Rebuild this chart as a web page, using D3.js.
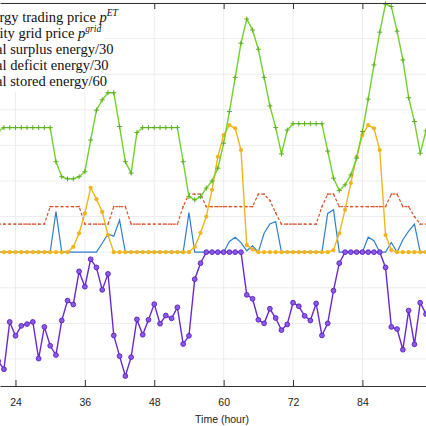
<!DOCTYPE html>
<html><head><meta charset="utf-8">
<script src="https://cdn.jsdelivr.net/npm/d3@7"></script>
<style>body{margin:0;background:#fff}</style></head>
<body><svg id="c" width="426" height="426"></svg>
<script>
const hours = d3.range(21, 96);
const xTicks = [24, 36, 48, 60, 72, 84];
const yGrid = d3.range(0, 101, 10);
const tradingPrice = [64,65,65,65,65,65,65,65,65,65,55.4,51.2,50.6,50.6,51.2,52.6,61.5,69.9,72.8,74.8,74.8,65.3,55.4,52.2,63.6,65,65,65,65,65,65,65,55.4,45.6,44.7,45.6,48,50,53.6,60.6,69.5,79.1,88.7,95.5,92.4,87.0,79.1,71.1,65.0,57.6,64.3,66.1,66.1,66.1,66.1,66.1,66.1,58.4,50.8,47.3,48.9,51.7,56.4,63.9,73.0,82.6,91.8,99.7,99.0,92.1,84.0,73.4,66.7,57.8,64.1];
const L=37.9, M=42.8, H=46.3;
const gridPrice = [L,L,L,L,L,L,L,L,L, M,M,M,M,M,M, L,L,L,L,L, M,M,M, L,L,L,L,L,L,L,L,L, M, H,H,H, M, M,M,M,M,M,M,M,M, H,H, 44.5,41, L,L,L,L,L,L,L, M, H,H, M, M,M,M,M,M,M,M,M, H,H, M,M,40,L,L];
const surplus = [30,30,30,30,30,30,30,30,30,30,41.4,30,30,30,30,30,30,30,32.5,35.1,34.5,39.0,30,30,30,30,30,30,30,30,30,30,30,41.1,30,30,30,30,30,30,33.0,34.2,32.7,30.4,31.8,30,35.3,37.9,38.6,30,30,30,30,30,30,30,30,40.9,41.9,30,30,30,30,30,34.2,33.2,30,30,32.7,30,33.5,35.9,37.9,30,30];
const deficit = [30,30,30,30,30,30,30,30,30,30,30,30,30,31.5,35.3,40.9,48.1,44.9,41.3,34.8,30,30,30,30,30,30,30,30,30,30,30,30,30,30,31.5,35.4,40,47.5,56.8,62.9,65.7,64.8,58.7,32,30.8,30,30,30,30,30,30,30,30,30,30,30,30,30,30.6,35.3,41.9,49.4,56.8,62.9,65.7,64.8,58.7,34.8,30.6,30,30,30,30,30,30];
const stored = [-0.6,-2.9,10.4,6.5,9.3,9.8,10.4,0.1,9.0,3.7,1.1,10.8,16.4,15.3,24.6,20.3,28.0,25.7,19.4,23.9,6.6,0.8,-4.8,0.5,11.1,6.8,11.0,15.4,9.9,12.2,11.4,14.5,4.2,6.5,22.4,26.9,30,30,30,30,30,30,30,18.0,16.9,11.0,10.0,14.1,11.5,8.1,9.7,15.8,14.8,12.1,10.8,15.6,6.6,10.0,19.2,26.9,30,30,30,30,30,30,30,25.7,9.0,8.4,2.6,13.6,4.1,15.8,12.6];
const legendLabels = [["Energy trading price ","p","ET"],["Utility grid price ","p","grid"],["Total surplus energy/30"],["Total deficit energy/30"],["Total stored energy/60"]];

const svg = d3.select("#c");
const x = d3.scaleLinear().domain([21.32, 95]).range([0, 426]);
const y = d3.scaleLinear().domain([-7.6, 100]).range([386, 3]);

svg.append("g").selectAll("line").data(yGrid).join("line")
  .attr("x1",0).attr("x2",426).attr("y1",d=>y(d)).attr("y2",d=>y(d))
  .attr("stroke","#e8e8e8").attr("stroke-width",0.8);
svg.append("g").selectAll("line").data(xTicks).join("line")
  .attr("x1",d=>x(d)).attr("x2",d=>x(d)).attr("y1",3).attr("y2",386)
  .attr("stroke","#e8e8e8").attr("stroke-width",0.8);

const line = d3.line().x((d,i)=>x(hours[i])).y(d=>y(d));
const g = svg.append("g");

function series(data, color, opts={}){
  g.append("path").datum(data).attr("d",line).attr("fill","none")
    .attr("stroke",color).attr("stroke-width",opts.w||1.3)
    .attr("stroke-dasharray",opts.dash||null);
}
series(gridPrice, "#d9532b", {dash:"3,2", w:1.2});
g.append("g").selectAll("circle").data(gridPrice).join("circle")
  .attr("cx",(d,i)=>x(hours[i])).attr("cy",d=>y(d)).attr("r",0.9).attr("fill","#d9532b");
series(surplus, "#2f7fd0", {w:1.2});
series(deficit, "#efb51c", {w:1.4});
g.append("g").selectAll("circle").data(deficit).join("circle")
  .attr("cx",(d,i)=>x(hours[i])).attr("cy",d=>y(d)).attr("r",2.1).attr("fill","#efb51c");
series(tradingPrice, "#72d12a", {w:1.4});
const gp = g.append("g").attr("stroke","#5fae22").attr("stroke-width",1);
tradingPrice.forEach((d,i)=>{
  const cx=x(hours[i]), cy=y(d);
  gp.append("line").attr("x1",cx-2.5).attr("x2",cx+2.5).attr("y1",cy).attr("y2",cy);
  gp.append("line").attr("x1",cx).attr("x2",cx).attr("y1",cy-2.5).attr("y2",cy+2.5);
});
series(stored, "#6a28d4", {w:1.4});
g.append("g").selectAll("circle").data(stored).join("circle")
  .attr("cx",(d,i)=>x(hours[i])).attr("cy",d=>y(d)).attr("r",2.4)
  .attr("fill","#8a5ae6").attr("stroke","#5a1fc0").attr("stroke-width",0.9);

const axTop = svg.append("g").attr("transform","translate(0,3)")
  .call(d3.axisTop(x).tickValues(xTicks).tickSizeInner(-6).tickSizeOuter(0).tickFormat(""));
const axBot = svg.append("g").attr("transform","translate(0,386)")
  .call(d3.axisBottom(x).tickValues(xTicks).tickSizeInner(-6).tickSizeOuter(0).tickPadding(13));
[axTop,axBot].forEach(a=>{a.select(".domain").attr("stroke","#333");a.selectAll(".tick line").attr("stroke","#333");});
axBot.selectAll("text").attr("font-family","Liberation Sans, Arial, sans-serif").attr("font-size",10.5).attr("fill","#222");
svg.append("text").attr("x",222).attr("y",423).attr("text-anchor","middle")
  .attr("font-family","Liberation Sans, Arial, sans-serif").attr("font-size",10.5).attr("fill","#222").text("Time (hour)");

svg.append("rect").attr("x",0).attr("y",4).attr("width",104).attr("height",88).attr("fill","#fff");
const lg = svg.append("g").attr("font-family","Liberation Serif, DejaVu Serif, serif").attr("font-size",14.5).attr("fill","#111");
legendLabels.forEach((l,i)=>{
  const t = lg.append("text").attr("x",-23).attr("y",22+i*16);
  t.append("tspan").text(l[0]);
  if(l[1]){
    t.append("tspan").attr("font-style","italic").text(l[1]);
    t.append("tspan").attr("font-style","italic").attr("font-size",9.5).attr("dy",-6).text(l[2]);
  }
});
</script></body></html>
